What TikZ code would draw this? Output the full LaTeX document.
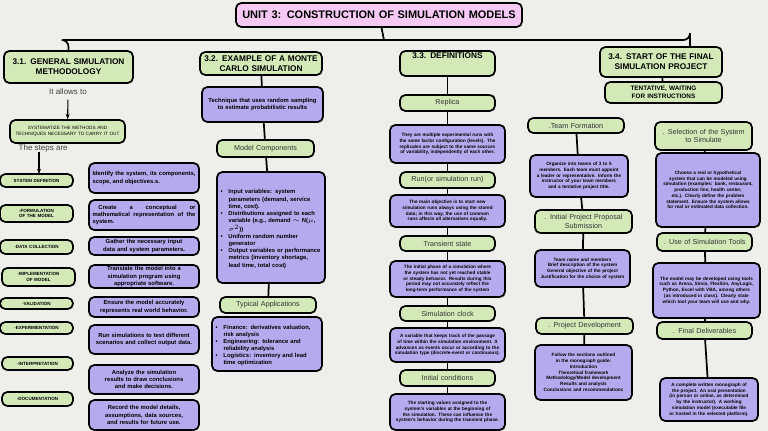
\documentclass[tikz,border=0pt]{standalone}
\usepackage{fontspec}
\setmainfont{Liberation Sans}
\usetikzlibrary{arrows.meta}
\hyphenpenalty=10000 \exhyphenpenalty=10000
\emergencystretch=20pt
\definecolor{gfill}{HTML}{D3EAB8}
\definecolor{pfill}{HTML}{B6AAEE}
\definecolor{tfill}{HTML}{F6C8F4}
\definecolor{bgc}{HTML}{EEEEEA}
\tikzset{
 base/.style={draw=black,line width=1.3pt,rounded corners=4pt,align=center,inner sep=1pt},
 gbox/.style={base,fill=gfill},
 pbox/.style={base,fill=pfill},
 tbox/.style={base,fill=tfill},
 conn/.style={line width=1.3pt},
}
\newcommand\bx[8]{%
 \pgfmathsetmacro\bw{(#5-#3)*0.75}\pgfmathsetmacro\bh{(#6-#4)*0.75}%
 \pgfmathsetmacro\tw{(#5-#3-7)*0.75}%
 \pgfmathsetmacro\cx{(#3+#5)/2}\pgfmathsetmacro\cy{(#4+#6)/2}%
 \node[#2,minimum width=\bw pt,minimum height=\bh pt,text width=\tw pt,font=#7] (#1) at (\cx,\cy) {\hyphenpenalty=10000 #8};}
\newcommand\itm[1]{\par\noindent\makebox[6pt][l]{\textbullet}\parbox[t]{\dimexpr\linewidth-6pt}{\hyphenpenalty=10000 #1}}
\begin{document}
\begin{tikzpicture}[x=0.75pt,y=-0.75pt]
\fill[bgc] (0,0) rectangle (768,431);
\useasboundingbox (0,0) rectangle (768,431);
\def\fT{\fontsize{6.2}{7.4}\selectfont\bfseries}
\def\fG{\fontsize{5.4}{6.6}\selectfont\color{black!80}}
\def\fP{\fontsize{3.5}{4.3}\selectfont\bfseries}
\def\fL{\fontsize{4.4}{5.4}\selectfont\bfseries}
\def\fs{\fontsize{3.4}{4.2}\selectfont\bfseries}
% title
\bx{title}{tbox}{236}{3}{522}{27}{\fontsize{9}{10}\selectfont\bfseries}{\resizebox{205pt}{!}{UNIT 3: CONSTRUCTION OF SIMULATION MODELS}}
\coordinate (tj) at (384,40);
\coordinate (tl) at (68,40);\coordinate (tr) at (690,40);
% 3.1
\bx{s1}{gbox}{4}{51}{133}{83}{\fT}{3.1. GENERAL SIMULATION METHODOLOGY}
\draw[conn] (title) -- (tj);
\draw[conn,rounded corners=5pt] (s1.north) |- (tl) -- (tr) -| (690,48);
\node[font=\fontsize{6}{7}\selectfont,text=black!75] (allows) at (68,92) {It allows to};
\bx{sys}{gbox}{10}{120}{125}{143}{\fontsize{3.5}{4.4}\selectfont}{SYSTEMATIZE THE METHODS AND TECHNIQUES NECESSARY TO CARRY IT OUT}
\draw[-{Stealth[length=4pt]},line width=0.8pt] (allows) -- (sys);
\node[font=\fontsize{6}{7}\selectfont,text=black!75,anchor=west] (steps) at (14,148) {The steps are};
\bx{st1}{gbox}{0}{174}{73}{187}{\fs}{SYSTEM DEFINITION}
\draw[-{Stealth[length=4pt]},line width=0.8pt] (39,152) -- (39,174);
\bx{st2}{gbox}{0}{205}{73}{222}{\fs}{-FORMULATION OF THE MODEL}
\bx{st3}{gbox}{0}{240}{73}{254}{\fs}{-DATA COLLECTION}
\bx{st4}{gbox}{2}{268}{75}{286}{\fs}{-IMPLEMENTATION OF MODEL}
\bx{st5}{gbox}{0}{298}{73}{309}{\fs}{-VALIDATION}
\bx{st6}{gbox}{0}{322}{73}{334}{\fs}{-EXPERIMENTATION}
\bx{st7}{gbox}{2}{357}{73}{370}{\fs}{-INTERPRETATION}
\bx{st8}{gbox}{2}{392}{73}{406}{\fs}{-DOCUMENTATION}
\tikzset{lp/.style={pbox,align=justify}}
\bx{d1}{lp}{89}{163}{199}{193}{\fL}{Identify the system, its components, scope, and objectives.s.}
\bx{d2}{lp}{89}{200}{199}{230}{\fL}{\hspace*{1em}Create a conceptual or mathematical representation of the system.}
\bx{d3}{pbox}{89}{237}{199}{255}{\fL}{Gather the necessary input data and system parameters.}
\bx{d4}{pbox}{89}{265}{199}{288}{\fL}{Translate the model into a simulation program using appropriate software.}
\bx{d5}{pbox}{89}{297}{199}{317}{\fL}{Ensure the model accurately represents real world behavior.}
\bx{d6}{pbox}{89}{325}{199}{354}{\fL}{Run simulations to test different scenarios and collect output data.}
\bx{d7}{pbox}{89}{365}{199}{394}{\fL}{Analyze the simulation results to draw conclusions and make decisions.}
\bx{d8}{pbox}{89}{400}{199}{430}{\fL}{Record the model details, assumptions, data sources, and results for future use.}
% 3.2
\bx{s2}{gbox}{200}{52}{322}{75}{\fT}{3.2. EXAMPLE OF A MONTE CARLO SIMULATION}
\bx{mc}{pbox}{202}{87}{323}{122}{\fL}{Technique that uses random sampling to estimate probabilistic results}
\bx{mcomp}{gbox}{217}{140}{314}{157}{\fG}{Model Components}
\bx{mlist}{pbox,align=left}{217}{172}{325}{283}{\fL}{%
\itm{Input variables: system parameters (demand, service time, cost).}
\itm{Distributions assigned to each variable (e.g., demand $\sim$ N($\mu$, $\sigma^2$))}
\itm{Uniform random number generator}
\itm{Output variables or performance metrics (inventory shortage, lead time, total cost)}}
\bx{tapp}{gbox}{220}{297}{316}{313}{\fG}{Typical Applications}
\bx{alist}{pbox,align=left}{212}{317}{322}{371}{\fL}{%
\itm{Finance: derivatives valuation, risk analysis}
\itm{Engineering: tolerance and reliability analysis}
\itm{Logistics: inventory and lead time optimization}}
\draw[conn] (s2) -- (mc); \draw[conn] (mc) -- (mcomp); \draw[conn] (mcomp) -- (mlist);
\draw[conn] (mlist) -- (tapp);
% 3.3
\bx{s3}{gbox}{400}{52}{495}{75}{\fT}{3.3. DEFINITIONS\\[5pt]\mbox{}}
\bx{rep}{gbox}{400}{95}{495}{111}{\fG}{Replica}
\bx{repd}{pbox}{390}{125}{505}{163}{\fP}{They are multiple experimental runs with the same factor configuration (levels). The replicates are subject to the same sources of variability, independently of each other.}
\bx{run}{gbox}{400}{172}{495}{188}{\fG}{Run(or simulation run)}
\bx{rund}{pbox}{390}{195}{505}{227}{\fP}{The main objective is to start new simulation runs always using the stored data; in this way, the use of common runs affects all alternatives equally.}
\bx{tr}{gbox}{400}{236}{495}{251}{\fG}{Transient state}
\bx{trd}{pbox}{390}{261}{505}{297}{\fP}{The initial phase of a simulation where the system has not yet reached stable or steady behavior. Results during this period may not accurately reflect the long-term performance of the system}
\bx{clk}{gbox}{400}{306}{495}{321}{\fG}{Simulation clock}
\bx{clkd}{pbox}{390}{328}{505}{362}{\fP}{A variable that keeps track of the passage of time within the simulation environment. It advances as events occur or according to the simulation type (discrete-event or continuous).}
\bx{ic}{gbox}{400}{370}{495}{386}{\fG}{Initial conditions}
\bx{icd}{pbox}{390}{394}{505}{430}{\fP}{The starting values assigned to the system's variables at the beginning of the simulation. These can influence the system's behavior during the transient phase.}
\foreach \a/\b in {s3/rep,rep/repd,repd/run,run/rund,rund/tr,tr/trd,trd/clk,clk/clkd,clkd/ic,ic/icd}
  \draw[conn] (\a) -- (\b);
% 3.4
\bx{s4}{gbox}{600}{47}{722}{77}{\fT}{3.4. START OF THE FINAL SIMULATION PROJECT}
\bx{tent}{gbox}{605}{82}{722}{103}{\fontsize{4.8}{5.8}\selectfont\bfseries}{TENTATIVE, WAITING FOR INSTRUCTIONS}
\draw[conn] (s4) -- (tent);
\bx{tf}{gbox}{528}{118}{624}{133}{\fG}{.Team Formation}
\bx{tfd}{pbox}{530}{155}{628}{197}{\fP}{Organize into teams of 3 to 5 members. Each team must appoint a leader or representative. Inform the instructor of your team members and a tentative project title.}
\bx{ip}{gbox}{535}{210}{632}{233}{\fG}{. Initial Project Proposal\\Submission}
\bx{ipd}{pbox}{535}{250}{630}{287}{\fP}{Team name and members\\Brief description of the system\\General objective of the project\\Justification for the choice of system}
\bx{pd}{gbox}{536}{318}{633}{334}{\fG}{. Project Development}
\bx{pdd}{pbox}{535}{345}{632}{400}{\fP}{Follow the sections outlined in the monograph guide:\\Introduction\\Theoretical framework\\Methodology/Model development\\Results and analysis\\Conclusions and recommendations}
\foreach \a/\b in {tf/tfd,tfd/ip,ip/ipd,ipd/pd,pd/pdd} \draw[conn] (\a) -- (\b);
\bx{sel}{gbox}{655}{122}{752}{150}{\fG}{. Selection of the System\\to Simulate}
\bx{seld}{pbox}{656}{153}{760}{227}{\fP}{Choose a real or hypothetical system that can be modeled using simulation (examples: bank, restaurant, production line, health center, etc.). Clearly define the problem statement. Ensure the system allows for real or estimated data collection.}
\bx{ust}{gbox}{657}{233}{752}{251}{\fG}{. Use of Simulation Tools}
\bx{ustd}{pbox}{653}{263}{760}{318}{\fP}{The model may be developed using tools such as Arena, Simio, FlexSim, AnyLogic, Python, Excel with VBA, among others (as introduced in class). Clearly state which tool your team will use and why.}
\bx{fd}{gbox}{657}{322}{752}{339}{\fG}{. Final Deliverables}
\bx{fdd}{pbox}{660}{378}{758}{421}{\fP}{A complete written monograph of the project. An oral presentation (in person or online, as determined by the instructor). A working simulation model (executable file or hosted in the selected platform).}
\foreach \a/\b in {sel/seld,seld/ust,ust/ustd,ustd/fd,fd/fdd} \draw[conn] (\a) -- (\b);
\end{tikzpicture}
\end{document}
